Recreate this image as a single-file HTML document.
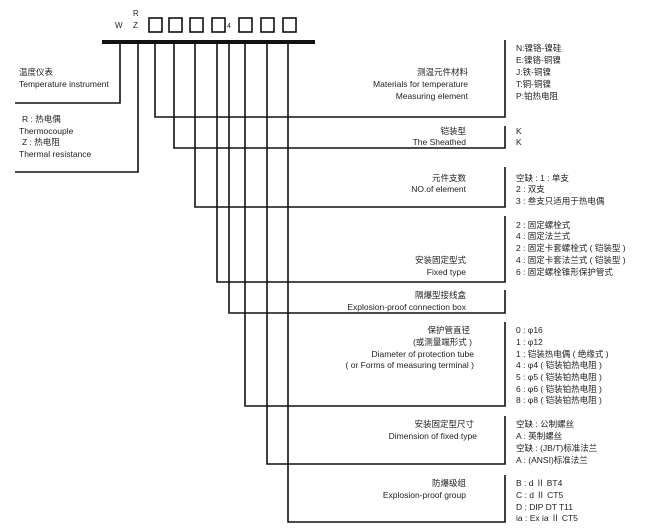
<!DOCTYPE html>
<html><head><meta charset="utf-8"><style>
html,body{margin:0;padding:0;background:#fff;width:650px;height:530px;overflow:hidden}
svg text{font-family:"Liberation Sans","Noto Sans CJK SC",sans-serif;font-size:8.5px;fill:#222}
.r{text-anchor:end}
</style></head><body>
<svg width="650" height="530" viewBox="0 0 650 530" xmlns="http://www.w3.org/2000/svg">
<g stroke="#111" stroke-width="1.6" fill="none">
<rect x="149" y="18" width="13" height="14"/><rect x="169" y="18" width="13" height="14"/>
<rect x="190" y="18" width="13" height="14"/><rect x="212" y="18" width="13" height="14"/>
<rect x="239" y="18" width="13" height="14"/><rect x="261" y="18" width="13" height="14"/>
<rect x="283" y="18" width="13" height="14"/>
</g>
<rect x="102" y="40" width="213" height="4" fill="#111"/>
<g stroke="#111" stroke-width="1.6" fill="none">
<polyline points="120,43 120,103 15,103"/>
<polyline points="138,43 138,172 15,172"/>
<polyline points="155,43 155,117 505,117 505,40"/>
<polyline points="174,43 174,148 505,148 505,126"/>
<polyline points="195,43 195,207 505,207 505,167"/>
<polyline points="217,43 217,282 505,282 505,216"/>
<polyline points="229,43 229,313 505,313 505,290"/>
<polyline points="245,43 245,406 505,406 505,322"/>
<polyline points="267,43 267,464 505,464 505,416"/>
<polyline points="288,43 288,522 505,522 505,475"/>
</g>
<text x="115" y="28" style="font-size:8px">W</text>
<text x="133" y="28" style="font-size:8px">Z</text>
<text x="133" y="16" style="font-size:8px">R</text>
<text x="227" y="28" style="font-size:7px">4</text>

<text x="19" y="75">温度仪表</text>
<text x="19" y="87">Temperature instrument</text>
<text x="22" y="122">R : 热电偶</text>
<text x="19" y="134">Thermocouple</text>
<text x="22" y="145">Z : 热电阻</text>
<text x="19" y="157">Thermal resistance</text>

<text class="r" x="468" y="75">测温元件材料</text>
<text class="r" x="468" y="87">Materials for temperature</text>
<text class="r" x="468" y="99">Measuring element</text>
<text x="516" y="51">N:镍铬-镍硅</text>
<text x="516" y="63">E:镍铬-铜镍</text>
<text x="516" y="75">J:铁-铜镍</text>
<text x="516" y="87">T:铜-铜镍</text>
<text x="516" y="99">P:铂热电阻</text>

<text class="r" x="466" y="134">铠装型</text>
<text class="r" x="466" y="145">The Sheathed</text>
<text x="516" y="134">K</text>
<text x="516" y="145">K</text>

<text class="r" x="466" y="181">元件支数</text>
<text class="r" x="466" y="192">NO.of element</text>
<text x="516" y="181">空缺 : 1 : 单支</text>
<text x="516" y="192">2 : 双支</text>
<text x="516" y="204">3 : 叁支只适用于热电偶</text>

<text class="r" x="466" y="263">安装固定型式</text>
<text class="r" x="466" y="275">Fixed type</text>
<text x="516" y="228">2 : 固定螺栓式</text>
<text x="516" y="239">4 : 固定法兰式</text>
<text x="516" y="251">2 : 固定卡套螺栓式 ( 铠装型 )</text>
<text x="516" y="263">4 : 固定卡套法兰式 ( 铠装型 )</text>
<text x="516" y="275">6 : 固定螺栓锥形保护管式</text>

<text class="r" x="466" y="298">隔爆型接线盒</text>
<text class="r" x="466" y="310">Explosion-proof connection box</text>

<text class="r" x="470" y="333">保护管直径</text>
<text class="r" x="472" y="345">(或测量端形式 )</text>
<text class="r" x="474" y="357">Diameter of protection tube</text>
<text class="r" x="474" y="368">( or Forms of measuring terminal )</text>
<text x="516" y="333">0 : φ16</text>
<text x="516" y="345">1 : φ12</text>
<text x="516" y="357">1 : 铠装热电偶 ( 绝缘式 )</text>
<text x="516" y="368">4 : φ4 ( 铠装铂热电阻 )</text>
<text x="516" y="380">5 : φ5 ( 铠装铂热电阻 )</text>
<text x="516" y="392">6 : φ6 ( 铠装铂热电阻 )</text>
<text x="516" y="403">8 : φ8 ( 铠装铂热电阻 )</text>

<text class="r" x="474" y="427">安装固定型尺寸</text>
<text class="r" x="477" y="439">Dimension of fixed type</text>
<text x="516" y="427">空缺 : 公制螺丝</text>
<text x="516" y="439">A : 英制螺丝</text>
<text x="516" y="451">空缺 : (JB/T)标准法兰</text>
<text x="516" y="463">A : (ANSI)标准法兰</text>

<text class="r" x="466" y="486">防爆级组</text>
<text class="r" x="466" y="498">Explosion-proof group</text>
<text x="516" y="486">B : d Ⅱ BT4</text>
<text x="516" y="498">C : d Ⅱ  CT5</text>
<text x="516" y="510">D : DIP DT T11</text>
<text x="516" y="521">ia : Ex ia Ⅱ CT5</text>
</svg>
</body></html>
